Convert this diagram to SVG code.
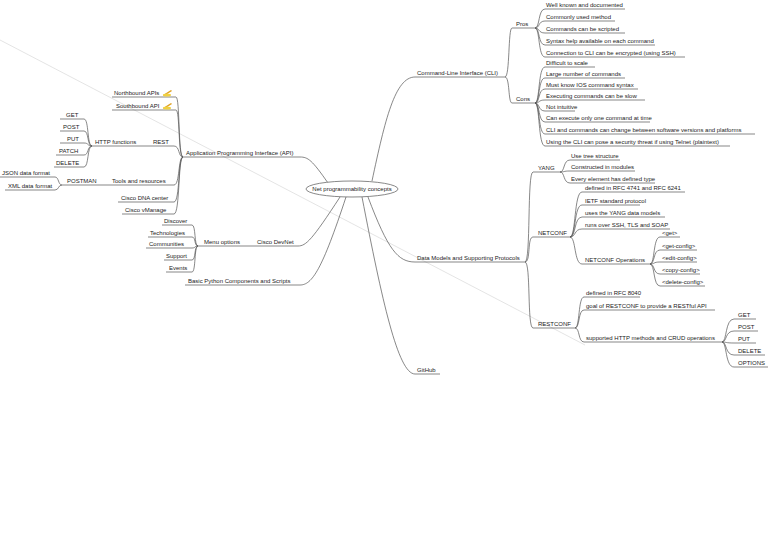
<svg xmlns="http://www.w3.org/2000/svg" width="768" height="543" viewBox="0 0 768 543">
<style>
text{font-family:"Liberation Sans",Arial,sans-serif;font-size:6px;fill:#222}
.u,.c{fill:none;stroke:#555;stroke-width:0.7}
</style>
<rect width="768" height="543" fill="#fff"/>
<path d="M0 40 L585 345" stroke="#ddd" stroke-width="0.8"/>
<g id="connectors" class="c">
<path d="M372 181 C385 120,395 77,415 77"/>
<path d="M368 197 C388 250,398 262,415 262"/>
<path d="M362 197 C382 300,398 374,415 374"/>
<path d="M328 183 C312 160,308 157,300 157"/>
<path d="M340 197 C312 240,306 246,298 246"/>
<path d="M346 197 C322 270,312 285,300 285"/>
<path d="M505 77 C510 77,508 28,512 28"/><path d="M505 77 C510 77,508 103,512 103"/>
<path d="M535 28 C540 28,538 9,545 9"/><path d="M535 28 C540 28,538 21,545 21"/><path d="M535 28 C540 28,538 33,545 33"/><path d="M535 28 C540 28,538 45,545 45"/><path d="M535 28 C540 28,538 57,545 57"/>
<path d="M535 103 C540 103,538 67,545 67"/><path d="M535 103 C540 103,538 78,545 78"/><path d="M535 103 C540 103,538 89,545 89"/><path d="M535 103 C540 103,538 100,545 100"/><path d="M535 103 C540 103,538 111,545 111"/><path d="M535 103 C540 103,538 122,545 122"/><path d="M535 103 C540 103,538 134,545 134"/><path d="M535 103 C540 103,538 146,545 146"/>
<path d="M525 262 C531 262,527 172,533 172"/><path d="M525 262 C531 262,527 237,533 237"/><path d="M525 262 C531 262,527 328,533 328"/>
<path d="M560 172 C565 172,563 160,570 160"/><path d="M560 172 C565 172,563 171,570 171"/><path d="M560 172 C565 172,563 183,570 183"/>
<path d="M570 237 C576 237,574 192,582 192"/><path d="M570 237 C576 237,574 205,582 205"/><path d="M570 237 C576 237,574 217,582 217"/><path d="M570 237 C576 237,574 229,582 229"/><path d="M570 237 C576 237,574 264,582 264"/>
<path d="M650 264 C655 264,653 237,660 237"/><path d="M650 264 C655 264,653 250,660 250"/><path d="M650 264 C655 264,653 262,660 262"/><path d="M650 264 C655 264,653 274,660 274"/><path d="M650 264 C655 264,653 286,660 286"/>
<path d="M575 328 C580 328,578 297,584 297"/><path d="M575 328 C580 328,578 310,584 310"/><path d="M575 328 C580 328,578 342,584 342"/>
<path d="M722 342 C727 342,725 319,734 319"/><path d="M722 342 C727 342,725 331,734 331"/><path d="M722 342 C727 342,725 343,734 343"/><path d="M722 342 C727 342,725 355,734 355"/><path d="M722 342 C727 342,725 367,734 367"/>
<path d="M183 157 C178 157,180 97,176 97"/><path d="M183 157 C178 157,180 110,176 110"/><path d="M183 157 C178 157,180 146,174 146"/><path d="M183 157 C178 157,180 185,174 185"/><path d="M183 157 C178 157,180 202,174 202"/><path d="M183 157 C178 157,180 214,174 214"/>
<path d="M92 146 C87 146,89 119,84 119"/><path d="M92 146 C87 146,89 131,84 131"/><path d="M92 146 C87 146,89 143,84 143"/><path d="M92 146 C87 146,89 155,84 155"/><path d="M92 146 C87 146,89 167,84 167"/>
<path d="M62 185 C58 185,59 177,55 177"/><path d="M62 185 C58 185,59 190,55 190"/>
<path d="M198 246 C194 246,196 225,192 225"/><path d="M198 246 C194 246,196 237,192 237"/><path d="M198 246 C194 246,196 248,192 248"/><path d="M198 246 C194 246,196 260,192 260"/><path d="M198 246 C194 246,196 272,192 272"/>
</g>
<g id="root"><ellipse cx="352" cy="189" rx="46" ry="8" fill="#fff" stroke="#555" stroke-width="0.7"/><text x="352" y="191" text-anchor="middle">Net programmability concepts</text></g>
<g id="api"><path class="u" d="M183 157H300"/><text x="186" y="155">Application Programming Interface (API)</text></g>
<g id="north"><path class="u" d="M112 97H176"/><text x="114" y="95">Northbound APIs</text><path d="M163 95 l8 -5 l1 1 l-8 5z" fill="#e0a020"/><ellipse cx="167" cy="95" rx="4" ry="1.5" fill="#f0d040"/></g>
<g id="south"><path class="u" d="M112 110H176"/><text x="116" y="108">Southbound API</text><path d="M163 108 l8 -5 l1 1 l-8 5z" fill="#e0a020"/><ellipse cx="167" cy="108" rx="4" ry="1.5" fill="#f0d040"/></g>
<g id="rest"><path class="u" d="M92 146H174"/><text x="95" y="144">HTTP functions</text><text x="153" y="144">REST</text></g>
<g id="get"><path class="u" d="M60 119H84"/><text x="66" y="117">GET</text></g>
<g id="post"><path class="u" d="M60 131H84"/><text x="63" y="129">POST</text></g>
<g id="put"><path class="u" d="M60 143H84"/><text x="67" y="141">PUT</text></g>
<g id="patch"><path class="u" d="M56 155H84"/><text x="59" y="153">PATCH</text></g>
<g id="delete"><path class="u" d="M54 167H84"/><text x="56" y="165">DELETE</text></g>
<g id="tools"><path class="u" d="M62 185H174"/><text x="67" y="183">POSTMAN</text><text x="112" y="183">Tools and resources</text></g>
<g id="json"><path class="u" d="M0 177H55"/><text x="2" y="175">JSON data format</text></g>
<g id="xml"><path class="u" d="M5 190H55"/><text x="8" y="188">XML data format</text></g>
<g id="dna"><path class="u" d="M118 202H174"/><text x="121" y="200">Cisco DNA center</text></g>
<g id="vman"><path class="u" d="M122 214H174"/><text x="125" y="212">Cisco vManage</text></g>
<g id="devnet"><path class="u" d="M198 246H298"/><text x="204" y="244">Menu options</text><text x="257" y="244">Cisco DevNet</text></g>
<g id="discover"><path class="u" d="M162 225H192"/><text x="164" y="223">Discover</text></g>
<g id="tech"><path class="u" d="M148 237H192"/><text x="150" y="235">Technologies</text></g>
<g id="comm"><path class="u" d="M146 248H192"/><text x="149" y="246">Communities</text></g>
<g id="support"><path class="u" d="M164 260H192"/><text x="166" y="258">Support</text></g>
<g id="events"><path class="u" d="M166 272H192"/><text x="169" y="270">Events</text></g>
<g id="python"><path class="u" d="M185 285H300"/><text x="188" y="283">Basic Python Components and Scripts</text></g>
<g id="cli"><path class="u" d="M415 77H505"/><text x="417" y="75">Command-Line Interface (CLI)</text></g>
<g id="pros"><path class="u" d="M512 28H535"/><text x="516" y="26">Pros</text></g>
<g id="cons"><path class="u" d="M512 103H535"/><text x="516" y="101">Cons</text></g>
<g id="pros-items">
<path class="u" d="M545 9H625M545 21H615M545 33H625M545 45H655M545 57H685"/>
<text x="546" y="7">Well known and documented</text>
<text x="546" y="19">Commonly used method</text>
<text x="546" y="31">Commands can be scripted</text>
<text x="546" y="43">Syntax help available on each command</text>
<text x="546" y="55">Connection to CLI can be encrypted  (using SSH)</text>
</g>
<g id="cons-items">
<path class="u" d="M545 67H595M545 78H625M545 89H638M545 100H645M545 111H575M545 122H650M545 134H755M545 146H730"/>
<text x="546" y="65">Difficult to scale</text>
<text x="546" y="76">Large number of commands</text>
<text x="546" y="87">Must know IOS command syntax</text>
<text x="546" y="98">Executing commands can be slow</text>
<text x="546" y="109">Not intuitive</text>
<text x="546" y="120">Can execute only one command at time</text>
<text x="546" y="132">CLI and commands can change between  software versions and platforms</text>
<text x="546" y="144">Using the CLI can pose a security threat if  using Telnet (plaintext)</text>
</g>
<g id="dm"><path class="u" d="M415 262H525"/><text x="417" y="260">Data Models and Supporting Protocols</text></g>
<g id="yang"><path class="u" d="M533 172H560"/><text x="538" y="170">YANG</text></g>
<g id="yang-items"><path class="u" d="M570 160H620M570 171H635M570 183H655"/>
<text x="571" y="158">Use tree structure</text><text x="571" y="169">Constructed in modules</text><text x="571" y="181">Every element has defined type</text></g>
<g id="netconf"><path class="u" d="M533 237H570"/><text x="538" y="235">NETCONF</text></g>
<g id="netconf-items"><path class="u" d="M582 192H685M582 205H640M582 217H665M582 229H670M582 264H650"/>
<text x="585" y="190">defined in RFC 4741 and RFC 6241</text><text x="585" y="203">IETF standard protocol</text><text x="585" y="215">uses the  YANG data models</text><text x="585" y="227">runs  over SSH, TLS  and SOAP</text><text x="585" y="262">NETCONF Operations</text></g>
<g id="ops"><path class="u" d="M660 237H680M660 250H697M660 262H697M660 274H700M660 286H705"/>
<text x="662" y="235">&lt;get&gt;</text><text x="662" y="248">&lt;get-config&gt;</text><text x="662" y="260">&lt;edit-config&gt;</text><text x="662" y="272">&lt;copy-config&gt;</text><text x="662" y="284">&lt;delete-config&gt;</text></g>
<g id="restconf"><path class="u" d="M533 328H575"/><text x="538" y="326">RESTCONF</text></g>
<g id="restconf-items"><path class="u" d="M584 297H640M584 310H715M584 342H722"/>
<text x="586" y="295">defined in RFC 8040</text><text x="586" y="308">goal of  RESTCONF  to provide a RESTful API</text><text x="586" y="340">supported HTTP methods  and CRUD operations</text></g>
<g id="http"><path class="u" d="M734 319H756M734 331H758M734 343H756M734 355H765M734 367H768"/>
<text x="738" y="317">GET</text><text x="738" y="329">POST</text><text x="738" y="341">PUT</text><text x="738" y="353">DELETE</text><text x="738" y="365">OPTIONS</text></g>
<g id="github"><path class="u" d="M415 374H440"/><text x="417" y="372">GitHub</text></g>
</svg>
